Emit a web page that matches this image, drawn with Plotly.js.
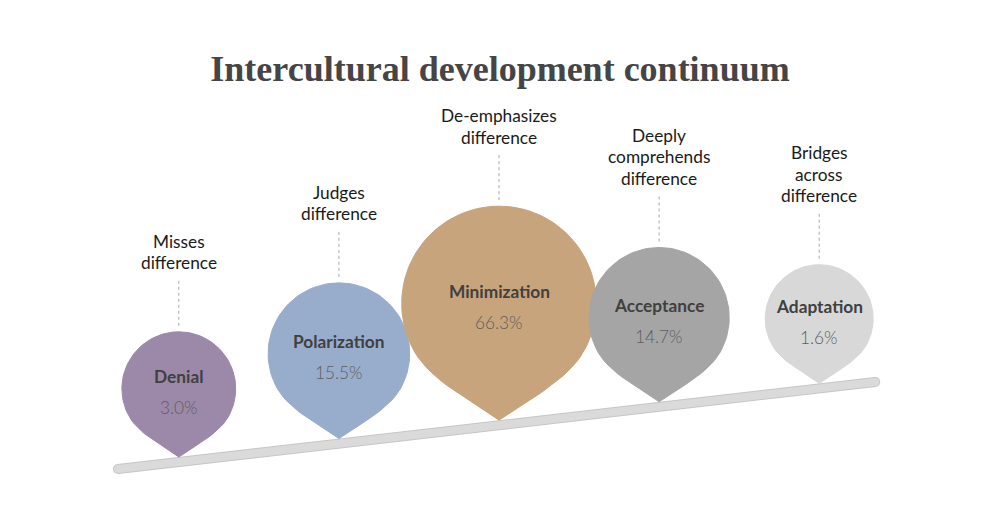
<!DOCTYPE html>
<html>
<head>
<meta charset="utf-8">
<script src="https://cdn.plot.ly/plotly-3.0.1.min.js"></script>
<style>html,body{margin:0;padding:0;background:#fff;}#chart{width:1000px;height:514px;}</style>
</head>
<body>
<div id="chart"></div>
<script>
// ---------------- DATA ----------------
const stages = ['Denial', 'Polarization', 'Minimization', 'Acceptance', 'Adaptation'];
const shares = [3.0, 15.5, 66.3, 14.7, 1.6];
const descriptions = [
  ['Misses', 'difference'],
  ['Judges', 'difference'],
  ['De-emphasizes', 'difference'],
  ['Deeply', 'comprehends', 'difference'],
  ['Bridges', 'across', 'difference']
];
const chartTitle = 'Intercultural development continuum';

// ---------------- STYLE ----------------
const fills = ['#9c89a9', '#98adcc', '#c8a47c', '#a5a5a5', '#d8d8d8'];
const W = 1000, H = 514;
const pxPerStage = 160.1;                 // horizontal scale: px per stage index
const xRange = [-178.8 / pxPerStage, (W - 178.8) / pxPerStage];
const sizeScale = v => 46 + 6.3 * Math.sqrt(v);   // radius (px) from share
const tipRatio = 1.2;                     // tip distance from centre, in radii
const baseStart = { x: -0.38, y: 469 }, baseEnd = { x: 4.35, y: 382 };
const baseAt = x => baseStart.y + (x - baseStart.x) * (baseEnd.y - baseStart.y) / (baseEnd.x - baseStart.x);

// teardrop outline in unit coordinates (y up, point facing down)
function unitDrop() {
  const phi0 = -30 * Math.PI / 180, tipAng = 35 * Math.PI / 180;
  const P = [Math.cos(phi0), Math.sin(phi0)], T = [0, -tipRatio];
  const dP = [Math.sin(phi0), -Math.cos(phi0)];            // circle tangent, heading down
  const dT = [-Math.cos(tipAng), -Math.sin(tipAng)];        // arrival direction at the point
  const h = 0.34;
  const C1 = [P[0] + h * dP[0], P[1] + h * dP[1]];
  const C2 = [T[0] - h * dT[0], T[1] - h * dT[1]];
  const right = [[0, 1]];
  for (let deg = 87; deg > phi0 * 180 / Math.PI; deg -= 3) {
    const a = deg * Math.PI / 180;
    right.push([Math.cos(a), Math.sin(a)]);
  }
  right.push(P);
  for (let k = 1; k <= 16; k++) {
    const t = k / 16, u = 1 - t;
    right.push([
      u*u*u*P[0] + 3*u*u*t*C1[0] + 3*u*t*t*C2[0] + t*t*t*T[0],
      u*u*u*P[1] + 3*u*u*t*C1[1] + 3*u*t*t*C2[1] + t*t*t*T[1]
    ]);
  }
  const left = right.slice(0, -1).reverse().map(p => [-p[0], p[1]]);
  return right.concat(left);
}
const drop = unitDrop();

const traces = [];
const annotations = [];

// baseline (outline + body + round caps)
const bx = [baseStart.x, baseEnd.x], by = [baseStart.y, baseEnd.y];
traces.push({ x: bx, y: by, mode: 'lines+markers', line: { color: '#c6c6c6', width: 10 },
  marker: { size: 10, color: '#c6c6c6' }, hoverinfo: 'skip' });
traces.push({ x: bx, y: by, mode: 'lines+markers', line: { color: '#dadada', width: 8 },
  marker: { size: 8, color: '#dadada' }, hoverinfo: 'skip' });

stages.forEach((name, i) => {
  const r = sizeScale(shares[i]);
  const tipY = baseAt(i) - 5;
  const cy = tipY - tipRatio * r;
  const top = cy - r;
  traces.push({
    x: drop.map(p => i + p[0] * r / pxPerStage),
    y: drop.map(p => cy - p[1] * r),
    mode: 'lines', fill: 'toself', fillcolor: fills[i],
    line: { color: fills[i], width: 1 }, hoverinfo: 'skip'
  });
  // dotted leader
  traces.push({ x: [i, i], y: [top - 6, top - 51], mode: 'lines',
    line: { color: '#a8a8a8', width: 1, dash: 'dot' }, hoverinfo: 'skip' });
  // description, one line at a time
  const lines = descriptions[i];
  lines.forEach((txt, k) => {
    annotations.push({ x: i, y: top - 69 - (lines.length - 1 - k) * 21.5, xref: 'x', yref: 'y',
      text: txt, showarrow: false, xanchor: 'center', yanchor: 'middle',
      font: { family: 'Lato', size: 17.3, color: '#1a1a1a' } });
  });
  // stage name & share
  annotations.push({ x: i, y: cy - 12, xref: 'x', yref: 'y', text: name, showarrow: false,
    font: { family: 'Lato', size: 17.3, color: '#404040', weight: 700 } });
  annotations.push({ x: i, y: cy + 19, xref: 'x', yref: 'y', text: shares[i].toFixed(1) + '%',
    showarrow: false, font: { family: 'Lato', size: 17.3, color: '#5e5e5e', weight: 300 } });
});

const layout = {
  width: W, height: H,
  margin: { l: 0, r: 0, t: 0, b: 0 },
  paper_bgcolor: '#fff', plot_bgcolor: '#fff',
  showlegend: false,
  title: { text: chartTitle, x: 0.5, xanchor: 'center', y: 1 - 68 / H, yanchor: 'middle', yref: 'container',
    font: { family: 'Liberation Serif', size: 36, color: '#454545', weight: 700 } },
  xaxis: { range: xRange, visible: false, fixedrange: true },
  yaxis: { range: [H, 0], visible: false, fixedrange: true },
  annotations: annotations
};

Plotly.newPlot('chart', traces, layout, { displayModeBar: false, staticPlot: true });
</script>
</body>
</html>
